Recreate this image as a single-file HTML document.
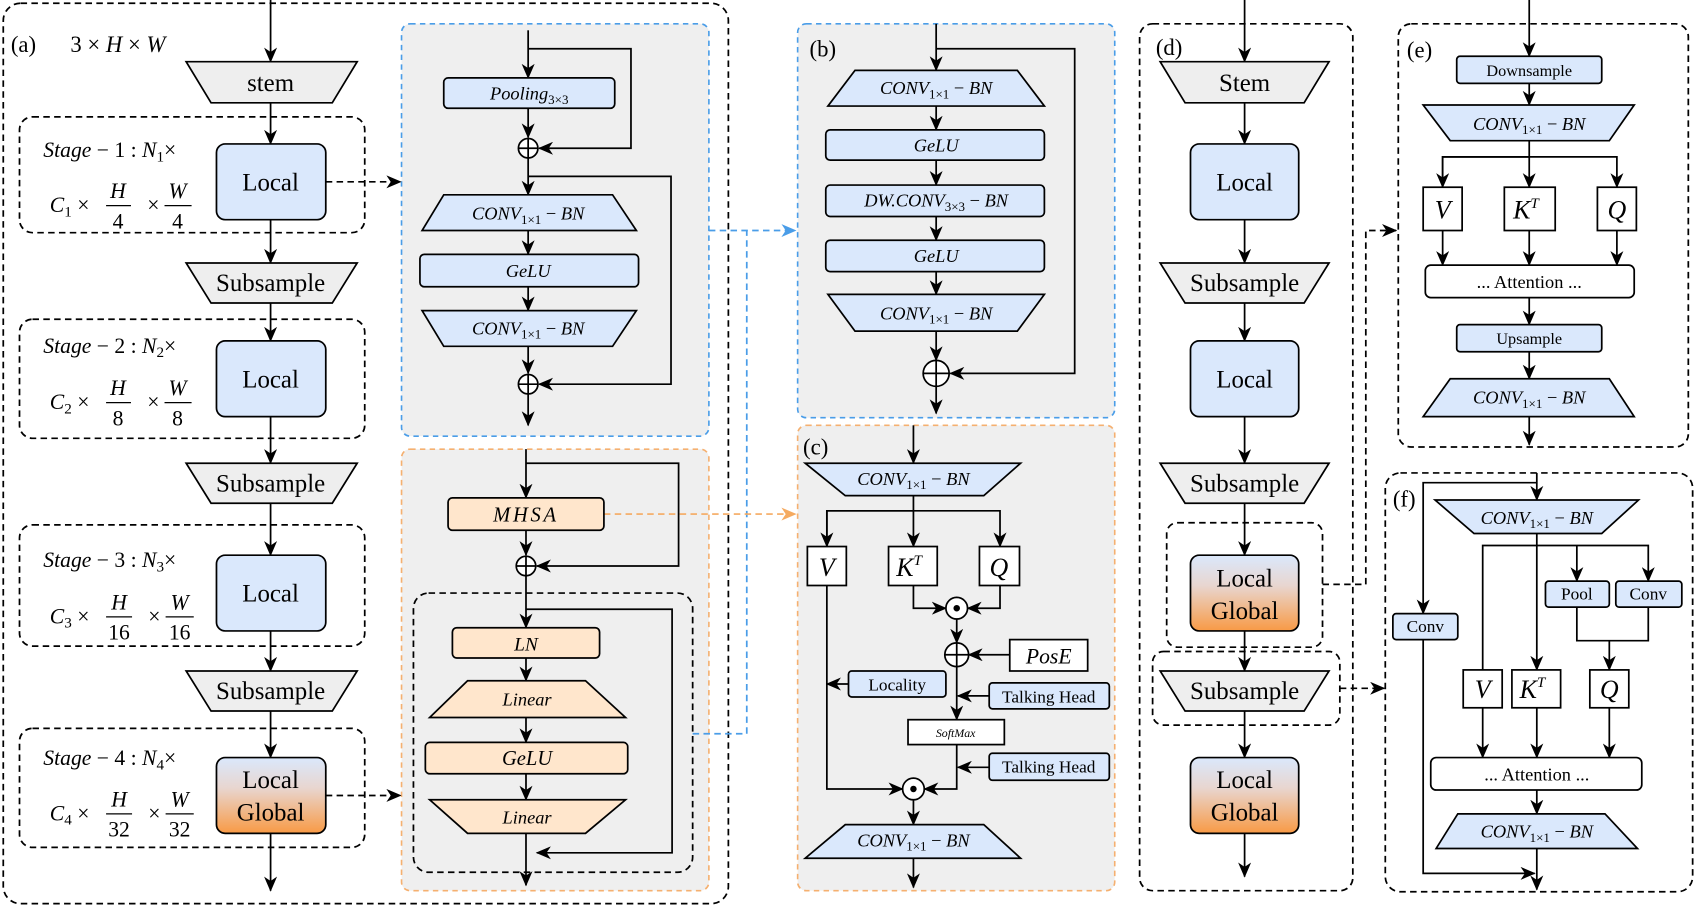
<!DOCTYPE html>
<html><head><meta charset="utf-8">
<style>
html,body{margin:0;padding:0;background:#fff;}
svg{display:block;}
text{font-family:"Liberation Serif",serif;}
.m{font-family:"Liberation Serif",serif;font-style:italic;}
.s{font-family:"Liberation Sans",sans-serif;}
</style></head><body>
<svg width="1697" height="908" viewBox="0 0 1568 839" xmlns="http://www.w3.org/2000/svg">
<defs>
<marker id="a" markerWidth="14" markerHeight="12" refX="13" refY="6" orient="auto" markerUnits="userSpaceOnUse"><path d="M0,0 L14,6 L0,12 L4,6 Z" fill="#000"/></marker>
<marker id="ab" markerWidth="14" markerHeight="12" refX="13" refY="6" orient="auto" markerUnits="userSpaceOnUse"><path d="M0,0 L14,6 L0,12 L4,6 Z" fill="#4a9de8"/></marker>
<marker id="ao" markerWidth="14" markerHeight="12" refX="13" refY="6" orient="auto" markerUnits="userSpaceOnUse"><path d="M0,0 L14,6 L0,12 L4,6 Z" fill="#f5aa60"/></marker>
<linearGradient id="lg" x1="0" y1="0" x2="0" y2="1"><stop offset="0" stop-color="#dae8fc"/><stop offset="0.4" stop-color="#e8d6d0"/><stop offset="1" stop-color="#f89a45"/></linearGradient>
</defs>
<g fill="none" stroke="#000" stroke-width="1.6">
<rect x="3" y="3" width="670" height="832" rx="16" stroke-dasharray="6,4"/>
<rect x="18" y="108" width="319" height="107" rx="12" stroke-dasharray="6,4"/>
<rect x="18" y="295" width="319" height="110" rx="12" stroke-dasharray="6,4"/>
<rect x="18" y="485" width="319" height="112" rx="12" stroke-dasharray="6,4"/>
<rect x="18" y="673" width="319" height="110" rx="12" stroke-dasharray="6,4"/>
<rect x="1053" y="22" width="197" height="801" rx="12" stroke-dasharray="6,4"/>
<rect x="1078" y="483" width="144" height="115" rx="10" stroke-dasharray="6,4"/>
<rect x="1065" y="602" width="173" height="68" rx="10" stroke-dasharray="6,4"/>
<rect x="1292" y="22" width="268" height="391" rx="12" stroke-dasharray="6,4"/>
<rect x="1280" y="437" width="284" height="387" rx="14" stroke-dasharray="6,4"/>
</g>
<rect x="371" y="22" width="284" height="381" rx="8" fill="#efefef" stroke="#4a9de8" stroke-width="1.5" stroke-dasharray="5,4"/>
<rect x="371" y="415" width="284" height="408" rx="8" fill="#efefef" stroke="#f5b070" stroke-width="1.5" stroke-dasharray="5,4"/>
<rect x="737" y="22" width="293" height="364" rx="8" fill="#efefef" stroke="#4a9de8" stroke-width="1.5" stroke-dasharray="5,4"/>
<rect x="737" y="393" width="293" height="430" rx="8" fill="#efefef" stroke="#f5b070" stroke-width="1.5" stroke-dasharray="5,4"/>
<rect x="382" y="548" width="258" height="258" rx="14" fill="none" stroke="#000" stroke-width="1.6" stroke-dasharray="6,4"/>

<g fill="none" stroke="#000" stroke-width="1.6">
<path d="M250,0 V57" marker-end="url(#a)"/>
<path d="M250,95 V133" marker-end="url(#a)"/>
<path d="M250,203 V243" marker-end="url(#a)"/>
<path d="M250,280 V315" marker-end="url(#a)"/>
<path d="M250,385 V428" marker-end="url(#a)"/>
<path d="M250,465 V513" marker-end="url(#a)"/>
<path d="M250,583 V620" marker-end="url(#a)"/>
<path d="M250,657 V700" marker-end="url(#a)"/>
<path d="M250,770 V823" marker-end="url(#a)"/>
<path d="M301,168 H370" stroke-dasharray="6,4" marker-end="url(#a)"/>
<path d="M301,735 H370" stroke-dasharray="6,4" marker-end="url(#a)"/>
<path d="M488,28 V72" marker-end="url(#a)"/>
<path d="M488,45 H583 V137 H498" marker-end="url(#a)"/>
<path d="M488,100 V127" marker-end="url(#a)"/>
<path d="M488,146 V180" marker-end="url(#a)"/>
<path d="M488,163 H620 V355 H498" marker-end="url(#a)"/>
<path d="M488,213 V235" marker-end="url(#a)"/>
<path d="M488,265 V287" marker-end="url(#a)"/>
<path d="M488,320 V345" marker-end="url(#a)"/>
<path d="M488,364 V393" marker-end="url(#a)"/>
<path d="M486,415 V460" marker-end="url(#a)"/>
<path d="M486,428 H627 V523 H496" marker-end="url(#a)"/>
<path d="M486,490 V513" marker-end="url(#a)"/>
<path d="M486,532 V580" marker-end="url(#a)"/>
<path d="M486,563 H621 V788 H496" marker-end="url(#a)"/>
<path d="M486,608 V629" marker-end="url(#a)"/>
<path d="M486,663 V686" marker-end="url(#a)"/>
<path d="M486,715 V739" marker-end="url(#a)"/>
<path d="M486,770 V818" marker-end="url(#a)"/>
<path d="M865,22 V65" marker-end="url(#a)"/>
<path d="M865,45 H993 V345 H878" marker-end="url(#a)"/>
<path d="M865,98 V120" marker-end="url(#a)"/>
<path d="M865,148 V171" marker-end="url(#a)"/>
<path d="M865,200 V222" marker-end="url(#a)"/>
<path d="M865,251 V272" marker-end="url(#a)"/>
<path d="M865,306 V333" marker-end="url(#a)"/>
<path d="M865,357 V382" marker-end="url(#a)"/>
<path d="M844,393 V428" marker-end="url(#a)"/>
<path d="M844,458 V505" marker-end="url(#a)"/>
<path d="M764,505 V472 H924 V505" marker-end="url(#a)"/>
<path d="M844,472 H764 V505" marker-end="url(#a)"/>
<path d="M844,541 V562 H874" marker-end="url(#a)"/>
<path d="M924,541 V562 H894" marker-end="url(#a)"/>
<path d="M884,572 V594" marker-end="url(#a)"/>
<path d="M933,605 H895" marker-end="url(#a)"/>
<path d="M884,616 V665" marker-end="url(#a)"/>
<path d="M784,632 H764" marker-end="url(#a)"/>
<path d="M914,643 H885" marker-end="url(#a)"/>
<path d="M914,709 H885" marker-end="url(#a)"/>
<path d="M764,541 V729 H834" marker-end="url(#a)"/>
<path d="M884,688 V729 H854" marker-end="url(#a)"/>
<path d="M844,739 V762" marker-end="url(#a)"/>
<path d="M844,793 V820" marker-end="url(#a)"/>
<path d="M1150,0 V57" marker-end="url(#a)"/>
<path d="M1150,95 V133" marker-end="url(#a)"/>
<path d="M1150,203 V243" marker-end="url(#a)"/>
<path d="M1150,280 V315" marker-end="url(#a)"/>
<path d="M1150,385 V428" marker-end="url(#a)"/>
<path d="M1150,465 V513" marker-end="url(#a)"/>
<path d="M1150,583 V620" marker-end="url(#a)"/>
<path d="M1150,657 V700" marker-end="url(#a)"/>
<path d="M1150,770 V810" marker-end="url(#a)"/>
<path d="M1222,540 H1262 V213 H1290" stroke-dasharray="6,4" marker-end="url(#a)"/>
<path d="M1238,636 H1279" stroke-dasharray="6,4" marker-end="url(#a)"/>
<path d="M1413,0 V52" marker-end="url(#a)"/>
<path d="M1413,77 V97" marker-end="url(#a)"/>
<path d="M1413,130 V173" marker-end="url(#a)"/>
<path d="M1333,173 V145 H1494 V173" marker-end="url(#a)"/>
<path d="M1413,145 H1333 V173" marker-end="url(#a)"/>
<path d="M1333,213 V245" marker-end="url(#a)"/>
<path d="M1413,213 V245" marker-end="url(#a)"/>
<path d="M1494,213 V245" marker-end="url(#a)"/>
<path d="M1413,275 V300" marker-end="url(#a)"/>
<path d="M1413,325 V350" marker-end="url(#a)"/>
<path d="M1413,385 V411" marker-end="url(#a)"/>
<path d="M1420,437 V462" marker-end="url(#a)"/>
<path d="M1420,446 H1315 V567" marker-end="url(#a)"/>
<path d="M1315,591 V807 H1418" marker-end="url(#a)"/>
<path d="M1420,493 V619" marker-end="url(#a)"/>
<path d="M1370,619 V504 H1523 V537" marker-end="url(#a)"/>
<path d="M1457,504 V537" marker-end="url(#a)"/>
<path d="M1457,561 V592 H1523 V561"/>
<path d="M1487,592 V619" marker-end="url(#a)"/>
<path d="M1370,654 V700" marker-end="url(#a)"/>
<path d="M1420,654 V700" marker-end="url(#a)"/>
<path d="M1487,654 V700" marker-end="url(#a)"/>
<path d="M1420,730 V752" marker-end="url(#a)"/>
<path d="M1420,784 V822" marker-end="url(#a)"/>
</g>
<path d="M655,213 H735" fill="none" stroke="#4a9de8" stroke-width="1.6" stroke-dasharray="6,4" marker-end="url(#ab)"/>
<path d="M640,678 H690 V213" fill="none" stroke="#4a9de8" stroke-width="1.6" stroke-dasharray="6,4"/>
<path d="M558,475 H735" fill="none" stroke="#f5aa60" stroke-width="1.6" stroke-dasharray="6,4" marker-end="url(#ao)"/>

<g stroke="#000" stroke-width="1.6">
<polygon points="172,57 330,57 307,95 195,95" fill="#eeeeee"/>
<rect x="200" y="133" width="101" height="70" rx="8" fill="#dae8fc"/>
<polygon points="172,243 330,243 307,280 195,280" fill="#eeeeee"/>
<rect x="200" y="315" width="101" height="70" rx="8" fill="#dae8fc"/>
<polygon points="172,428 330,428 307,465 195,465" fill="#eeeeee"/>
<rect x="200" y="513" width="101" height="70" rx="8" fill="#dae8fc"/>
<polygon points="172,620 330,620 307,657 195,657" fill="#eeeeee"/>
<rect x="200" y="700" width="101" height="70" rx="8" fill="url(#lg)"/>
<rect x="410" y="72" width="158" height="28" rx="4" fill="#dae8fc"/>
<polygon points="410,180 566,180 588,213 390,213" fill="#dae8fc"/>
<rect x="388" y="235" width="202" height="30" rx="4" fill="#dae8fc"/>
<polygon points="390,287 588,287 566,320 410,320" fill="#dae8fc"/>
<rect x="414" y="460" width="144" height="30" rx="4" fill="#ffe6cc"/>
<rect x="418" y="580" width="136" height="28" rx="4" fill="#ffe6cc"/>
<polygon points="432,629 541,629 578,663 397,663" fill="#ffe6cc"/>
<rect x="393" y="686" width="187" height="29" rx="4" fill="#ffe6cc"/>
<polygon points="397,739 578,739 541,770 432,770" fill="#ffe6cc"/>
<polygon points="790,65 940,65 965,98 765,98" fill="#dae8fc"/>
<rect x="763" y="120" width="202" height="28" rx="4" fill="#dae8fc"/>
<rect x="763" y="171" width="202" height="29" rx="4" fill="#dae8fc"/>
<rect x="763" y="222" width="202" height="29" rx="4" fill="#dae8fc"/>
<polygon points="765,272 965,272 940,306 790,306" fill="#dae8fc"/>
<polygon points="744,428 943,428 909,458 781,458" fill="#dae8fc"/>
<rect x="746" y="505" width="36" height="36" fill="#fff"/>
<rect x="821" y="505" width="45" height="36" fill="#fff"/>
<rect x="905" y="505" width="37" height="36" fill="#fff"/>
<rect x="933" y="591" width="72" height="29" fill="#fff"/>
<rect x="784" y="620" width="90" height="24" rx="3" fill="#dae8fc"/>
<rect x="914" y="631" width="111" height="24" rx="3" fill="#dae8fc"/>
<rect x="839" y="665" width="89" height="23" fill="#fff"/>
<rect x="914" y="696" width="111" height="25" rx="3" fill="#dae8fc"/>
<polygon points="781,762 909,762 943,793 744,793" fill="#dae8fc"/>
<polygon points="1072,57 1228,57 1205,95 1095,95" fill="#eeeeee"/>
<rect x="1100" y="133" width="100" height="70" rx="8" fill="#dae8fc"/>
<polygon points="1072,243 1228,243 1205,280 1095,280" fill="#eeeeee"/>
<rect x="1100" y="315" width="100" height="70" rx="8" fill="#dae8fc"/>
<polygon points="1072,428 1228,428 1205,465 1095,465" fill="#eeeeee"/>
<rect x="1100" y="513" width="100" height="70" rx="8" fill="url(#lg)"/>
<polygon points="1072,620 1228,620 1205,657 1095,657" fill="#eeeeee"/>
<rect x="1100" y="700" width="100" height="70" rx="8" fill="url(#lg)"/>
<rect x="1346" y="52" width="134" height="25" rx="3" fill="#dae8fc"/>
<polygon points="1315,97 1510,97 1487,130 1340,130" fill="#dae8fc"/>
<rect x="1315" y="173" width="36" height="40" fill="#fff"/>
<rect x="1390" y="173" width="47" height="40" fill="#fff"/>
<rect x="1476" y="173" width="36" height="40" fill="#fff"/>
<rect x="1317" y="245" width="193" height="30" rx="5" fill="#fff"/>
<rect x="1346" y="300" width="134" height="25" rx="3" fill="#dae8fc"/>
<polygon points="1340,350 1487,350 1510,385 1315,385" fill="#dae8fc"/>
<polygon points="1326,462 1514,462 1480,493 1362,493" fill="#dae8fc"/>
<rect x="1287" y="567" width="60" height="24" rx="3" fill="#dae8fc"/>
<rect x="1428" y="537" width="59" height="24" rx="3" fill="#dae8fc"/>
<rect x="1493" y="537" width="61" height="24" rx="3" fill="#dae8fc"/>
<rect x="1352" y="619" width="36" height="35" fill="#fff"/>
<rect x="1397" y="619" width="45" height="35" fill="#fff"/>
<rect x="1469" y="619" width="36" height="35" fill="#fff"/>
<rect x="1322" y="700" width="195" height="30" rx="5" fill="#fff"/>
<polygon points="1347,752 1483,752 1513,784 1327,784" fill="#dae8fc"/>
</g>
<g fill="#fff" stroke="#000" stroke-width="1.6">
<circle cx="488" cy="137" r="9"/><path d="M479,137 H497 M488,128 V146" fill="none"/>
<circle cx="488" cy="355" r="9"/><path d="M479,355 H497 M488,346 V364" fill="none"/>
<circle cx="486" cy="523" r="9"/><path d="M477,523 H495 M486,514 V532" fill="none"/>
<circle cx="865" cy="345" r="12"/><path d="M853,345 H877 M865,333 V357" fill="none"/>
<circle cx="884" cy="562" r="10"/>
<circle cx="884" cy="605" r="11"/><path d="M873,605 H895 M884,594 V616" fill="none"/>
<circle cx="844" cy="729" r="10"/>
</g>
<circle cx="884" cy="562" r="3" fill="#000"/>
<circle cx="844" cy="729" r="3" fill="#000"/>

<g font-size="21" class="s"><text x="10" y="48">(a)</text><text x="748" y="52">(b)</text><text x="742" y="420">(c)</text><text x="1068" y="51">(d)</text><text x="1300" y="53">(e)</text><text x="1287" y="468">(f)</text></g>
<text x="65" y="48" font-size="21">3 × <tspan class="m">H</tspan> × <tspan class="m">W</tspan></text>
<g font-size="23" text-anchor="middle">
<text x="250" y="84">stem</text>
<text x="250" y="176">Local</text>
<text x="250" y="269">Subsample</text>
<text x="250" y="358">Local</text>
<text x="250" y="454">Subsample</text>
<text x="250" y="556">Local</text>
<text x="250" y="646">Subsample</text>
<text x="250" y="728">Local</text><text x="250" y="758">Global</text>
<text x="1150" y="84">Stem</text>
<text x="1150" y="176">Local</text>
<text x="1150" y="269">Subsample</text>
<text x="1150" y="358">Local</text>
<text x="1150" y="454">Subsample</text>
<text x="1150" y="542">Local</text><text x="1150" y="572">Global</text>
<text x="1150" y="646">Subsample</text>
<text x="1150" y="728">Local</text><text x="1150" y="758">Global</text>
</g>
<g font-size="20">
<text x="40" y="145"><tspan class="m">Stage</tspan> − 1 : <tspan class="m">N</tspan><tspan font-size="14" dy="4">1</tspan><tspan dy="-4">×</tspan></text>
<text x="40" y="326"><tspan class="m">Stage</tspan> − 2 : <tspan class="m">N</tspan><tspan font-size="14" dy="4">2</tspan><tspan dy="-4">×</tspan></text>
<text x="40" y="524"><tspan class="m">Stage</tspan> − 3 : <tspan class="m">N</tspan><tspan font-size="14" dy="4">3</tspan><tspan dy="-4">×</tspan></text>
<text x="40" y="707"><tspan class="m">Stage</tspan> − 4 : <tspan class="m">N</tspan><tspan font-size="14" dy="4">4</tspan><tspan dy="-4">×</tspan></text>
</g>
<g font-size="20">
<text x="46" y="196"><tspan class="m">C</tspan><tspan font-size="14" dy="4">1</tspan><tspan dy="-4"> ×</tspan></text>
<text x="109" y="183" class="m" text-anchor="middle">H</text><text x="109" y="211" text-anchor="middle">4</text><path d="M98,190 H121" stroke="#000" stroke-width="1.2"/>
<text x="136" y="196">×</text>
<text x="164" y="183" class="m" text-anchor="middle">W</text><text x="164" y="211" text-anchor="middle">4</text><path d="M152,190 H177" stroke="#000" stroke-width="1.2"/>
<text x="46" y="378"><tspan class="m">C</tspan><tspan font-size="14" dy="4">2</tspan><tspan dy="-4"> ×</tspan></text>
<text x="109" y="365" class="m" text-anchor="middle">H</text><text x="109" y="393" text-anchor="middle">8</text><path d="M98,372 H121" stroke="#000" stroke-width="1.2"/>
<text x="136" y="378">×</text>
<text x="164" y="365" class="m" text-anchor="middle">W</text><text x="164" y="393" text-anchor="middle">8</text><path d="M152,372 H177" stroke="#000" stroke-width="1.2"/>
<text x="46" y="576"><tspan class="m">C</tspan><tspan font-size="14" dy="4">3</tspan><tspan dy="-4"> ×</tspan></text>
<text x="110" y="563" class="m" text-anchor="middle">H</text><text x="110" y="591" text-anchor="middle">16</text><path d="M98,570 H122" stroke="#000" stroke-width="1.2"/>
<text x="137" y="576">×</text>
<text x="166" y="563" class="m" text-anchor="middle">W</text><text x="166" y="591" text-anchor="middle">16</text><path d="M153,570 H179" stroke="#000" stroke-width="1.2"/>
<text x="46" y="758"><tspan class="m">C</tspan><tspan font-size="14" dy="4">4</tspan><tspan dy="-4"> ×</tspan></text>
<text x="110" y="745" class="m" text-anchor="middle">H</text><text x="110" y="773" text-anchor="middle">32</text><path d="M98,752 H122" stroke="#000" stroke-width="1.2"/>
<text x="137" y="758">×</text>
<text x="166" y="745" class="m" text-anchor="middle">W</text><text x="166" y="773" text-anchor="middle">32</text><path d="M153,752 H179" stroke="#000" stroke-width="1.2"/>
</g>
<g font-size="17" text-anchor="middle">
<text x="489" y="92"><tspan class="m">Pooling</tspan><tspan font-size="12" dy="4">3×3</tspan></text>
<text x="488" y="203"><tspan class="m">CONV</tspan><tspan font-size="12" dy="4">1×1</tspan><tspan dy="-4"> − </tspan><tspan class="m">BN</tspan></text>
<text x="488" y="256" class="m">GeLU</text>
<text x="488" y="309"><tspan class="m">CONV</tspan><tspan font-size="12" dy="4">1×1</tspan><tspan dy="-4"> − </tspan><tspan class="m">BN</tspan></text>
<text x="486" y="482" class="m" font-size="19" letter-spacing="2.5">MHSA</text>
<text x="486" y="601" class="m" font-size="18">LN</text>
<text x="487" y="652" class="m">Linear</text>
<text x="487" y="707" class="m" font-size="19">GeLU</text>
<text x="487" y="761" class="m">Linear</text>
<text x="865" y="87"><tspan class="m">CONV</tspan><tspan font-size="12" dy="4">1×1</tspan><tspan dy="-4"> − </tspan><tspan class="m">BN</tspan></text>
<text x="865" y="140" class="m">GeLU</text>
<text x="865" y="191"><tspan class="m">DW.CONV</tspan><tspan font-size="12" dy="4">3×3</tspan><tspan dy="-4"> − </tspan><tspan class="m">BN</tspan></text>
<text x="865" y="242" class="m">GeLU</text>
<text x="865" y="295"><tspan class="m">CONV</tspan><tspan font-size="12" dy="4">1×1</tspan><tspan dy="-4"> − </tspan><tspan class="m">BN</tspan></text>
<text x="844" y="448"><tspan class="m">CONV</tspan><tspan font-size="12" dy="4">1×1</tspan><tspan dy="-4"> − </tspan><tspan class="m">BN</tspan></text>
<text x="844" y="782"><tspan class="m">CONV</tspan><tspan font-size="12" dy="4">1×1</tspan><tspan dy="-4"> − </tspan><tspan class="m">BN</tspan></text>
<text x="1413" y="120"><tspan class="m">CONV</tspan><tspan font-size="12" dy="4">1×1</tspan><tspan dy="-4"> − </tspan><tspan class="m">BN</tspan></text>
<text x="1413" y="373"><tspan class="m">CONV</tspan><tspan font-size="12" dy="4">1×1</tspan><tspan dy="-4"> − </tspan><tspan class="m">BN</tspan></text>
<text x="1420" y="484"><tspan class="m">CONV</tspan><tspan font-size="12" dy="4">1×1</tspan><tspan dy="-4"> − </tspan><tspan class="m">BN</tspan></text>
<text x="1420" y="774"><tspan class="m">CONV</tspan><tspan font-size="12" dy="4">1×1</tspan><tspan dy="-4"> − </tspan><tspan class="m">BN</tspan></text>
</g>
<g font-size="24" text-anchor="middle" class="m">
<text x="764" y="532">V</text><text x="840" y="532">K<tspan font-size="14" dy="-10">T</tspan></text><text x="923" y="532">Q</text>
<text x="1333" y="202">V</text><text x="1410" y="202">K<tspan font-size="14" dy="-10">T</tspan></text><text x="1494" y="202">Q</text>
<text x="1370" y="645">V</text><text x="1416" y="645">K<tspan font-size="14" dy="-10">T</tspan></text><text x="1487" y="645">Q</text>
<text x="969" y="613" font-size="20">PosE</text>
<text x="883" y="681" font-size="11">SoftMax</text>
</g>
<g font-size="16" text-anchor="middle">
<text x="829" y="638">Locality</text>
<text x="969" y="649">Talking Head</text>
<text x="969" y="714">Talking Head</text>
<text x="1317" y="584">Conv</text>
<text x="1457" y="554">Pool</text>
<text x="1523" y="554">Conv</text>
</g>
<g font-size="15" text-anchor="middle" class="s">
<text x="1413" y="70">Downsample</text>
<text x="1413" y="318">Upsample</text>
<text x="1413" y="266" font-size="17">... Attention ...</text>
<text x="1420" y="721" font-size="17">... Attention ...</text>
</g>
</svg>
</body></html>
